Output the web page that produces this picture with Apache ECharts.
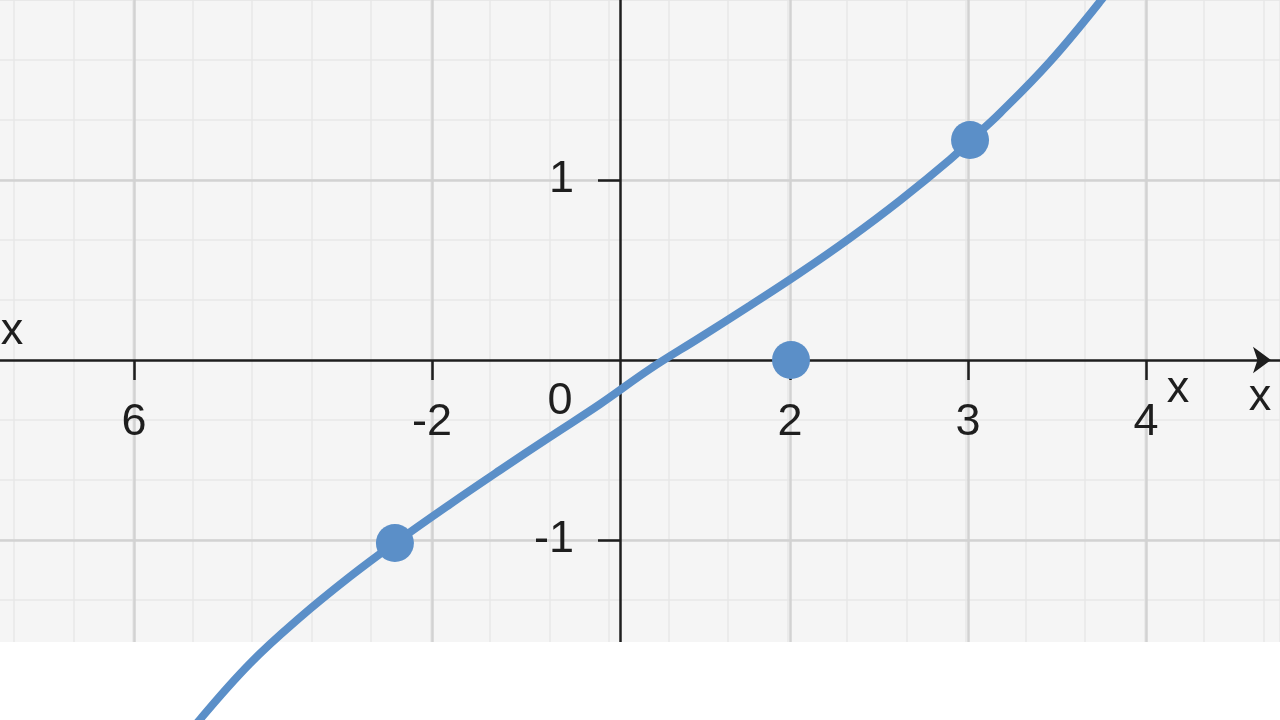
<!DOCTYPE html>
<html>
<head>
<meta charset="utf-8">
<script src="https://cdn.jsdelivr.net/npm/echarts@6/dist/echarts.min.js"></script>
<style>
html,body{margin:0;padding:0;background:#ffffff;}
#chart{width:1280px;height:720px;}
</style>
</head>
<body>
<div id="chart"></div>
<script>
// ---- data (in plot units: x relative to the vertical axis, y relative to the horizontal axis) ----
const curveX = [-2.521, -2.353, -2.073, -1.793, -1.513, -1.261, -0.952, -0.672, -0.392, -0.112, 0.168, 0.448, 0.728, 1.008, 1.289, 1.569, 1.849, 1.961, 2.129, 2.409, 2.689, 2.857];
const curveY = [-2.214, -1.997, -1.686, -1.431, -1.204, -1.017, -0.801, -0.612, -0.427, -0.245, -0.050, 0.125, 0.302, 0.484, 0.678, 0.887, 1.114, 1.218, 1.372, 1.658, 1.991, 2.217];

const pointX = [-1.261, 0.958, 1.961];
const pointY = [-1.017, 0.000, 1.222];

const xTickPos  = [-2.723, -1.053, 0.952, 1.950, 2.947];
const xTickText = ['6', '-2', '2', '3', '4'];
const yTickPos  = [-1, 1];
const yTickText = ['-1', '1'];

const noteText = ['0', 'x', 'x', 'x'];
const noteX    = [-0.336, -3.406, 3.126, 3.585];
const noteY    = [-0.233, 0.156, -0.167, -0.211];

// ---- view window ----
const X_MIN = -3.7283, X_MAX = 3.6975;
const Y_MIN = -2, Y_MAX = 2;
const GRAY_BOTTOM = -1.567;
const STEP = 1 / 3;

const W = 1280, H = 720, GRID_LEFT = -45.5;
const PLOT_W = W - GRID_LEFT, PLOT_H = H;
// move the visible axes onto the zero lines of the other axis
const X_AXIS_OFFSET = -PLOT_H * (0 - Y_MIN) / (Y_MAX - Y_MIN);
const Y_AXIS_OFFSET = -PLOT_W * (0 - X_MIN) / (X_MAX - X_MIN);

const FONT = 'Liberation Sans, Arial, sans-serif';
const INK = '#1e1e1e';
const BLUE = '#5b8fc8';
const MINOR = '#e7e7e7';
const MAJOR = '#d2d2d2';

const chart = echarts.init(document.getElementById('chart'), null, {renderer: 'canvas'});

const labelOf = (pos, text) => function (v, i) {
  let num = (v !== null && typeof v === 'object') ? +v.value : +v;
  if (isNaN(num)) return text[i] !== undefined ? text[i] : '';
  let best = 0, bd = Infinity;
  pos.forEach((p, k) => { const d = Math.abs(p - num); if (d < bd) { bd = d; best = k; } });
  return text[best];
};

const majorV = xTickPos.map(x => [{coord: [x, Y_MAX]}, {coord: [x, GRAY_BOTTOM]}]);
const majorH = yTickPos.map(y => ({yAxis: y}));

const option = {
  backgroundColor: '#ffffff',
  animation: false,
  textStyle: {fontFamily: FONT},
  grid: {
    left: GRID_LEFT, right: 0, top: 0, bottom: 0,
    show: true, backgroundColor: '#f5f5f5', borderWidth: 0,
    containLabel: false, outerBoundsMode: 'none'
  },
  xAxis: [
    {
      type: 'value', min: X_MIN, max: X_MAX, position: 'bottom', offset: X_AXIS_OFFSET,
      axisLine: {show: true, onZero: false, symbol: ['none', 'arrow'], symbolSize: [20, 18], symbolOffset: [0, -9],
                 lineStyle: {color: INK, width: 2.5}},
      axisTick: {show: true, customValues: xTickPos, length: 20, lineStyle: {color: INK, width: 2.5}},
      axisLabel: {show: true, customValues: xTickPos, formatter: labelOf(xTickPos, xTickText),
                  margin: 40, fontSize: 45, color: INK, fontFamily: FONT},
      splitLine: {show: false}
    },
    {
      type: 'value', min: X_MIN, max: X_MAX, interval: STEP,
      axisLine: {show: false}, axisTick: {show: false}, axisLabel: {show: false},
      splitLine: {show: true, lineStyle: {color: MINOR, width: 1.5}}
    }
  ],
  yAxis: [
    {
      type: 'value', min: Y_MIN, max: Y_MAX, position: 'left', offset: Y_AXIS_OFFSET,
      axisLine: {show: true, onZero: false, lineStyle: {color: INK, width: 2.5}},
      axisTick: {show: true, customValues: yTickPos, length: 22, lineStyle: {color: INK, width: 2.5}},
      axisLabel: {show: true, customValues: yTickPos, formatter: labelOf(yTickPos, yTickText),
                  margin: 46, fontSize: 45, color: INK, fontFamily: FONT},
      splitLine: {show: false}
    },
    {
      type: 'value', min: Y_MIN, max: Y_MAX, interval: STEP,
      axisLine: {show: false}, axisTick: {show: false}, axisLabel: {show: false},
      splitLine: {show: true, lineStyle: {color: MINOR, width: 1.5}}
    }
  ],
  series: [
    {
      type: 'line', data: [], z: 1, silent: true,
      markArea: {
        silent: true, z: 1,
        itemStyle: {color: '#ffffff'},
        data: [[{yAxis: Y_MIN}, {yAxis: GRAY_BOTTOM}]]
      },
      markLine: {
        silent: true, symbol: ['none', 'none'], z: 0,
        label: {show: false},
        lineStyle: {color: MAJOR, width: 2.5, type: 'solid'},
        data: majorV.concat(majorH)
      }
    },
    {
      type: 'line', z: 3, smooth: 0.4, clip: false,
      showSymbol: false, silent: true,
      lineStyle: {color: BLUE, width: 8, cap: 'round'},
      data: curveX.map((x, i) => [x, curveY[i]])
    },
    {
      type: 'scatter', z: 4, symbol: 'circle', symbolSize: 38, silent: true,
      itemStyle: {color: BLUE, opacity: 1},
      data: pointX.map((x, i) => [x, pointY[i]])
    },
    {
      type: 'scatter', z: 5, symbolSize: 0, silent: true,
      itemStyle: {opacity: 1},
      label: {show: true, position: 'inside', formatter: p => noteText[p.dataIndex],
              fontSize: 45, color: INK, fontFamily: FONT, textBorderWidth: 0},
      data: noteX.map((x, i) => [x, noteY[i]])
    }
  ]
};
chart.setOption(option);
</script>
</body>
</html>
